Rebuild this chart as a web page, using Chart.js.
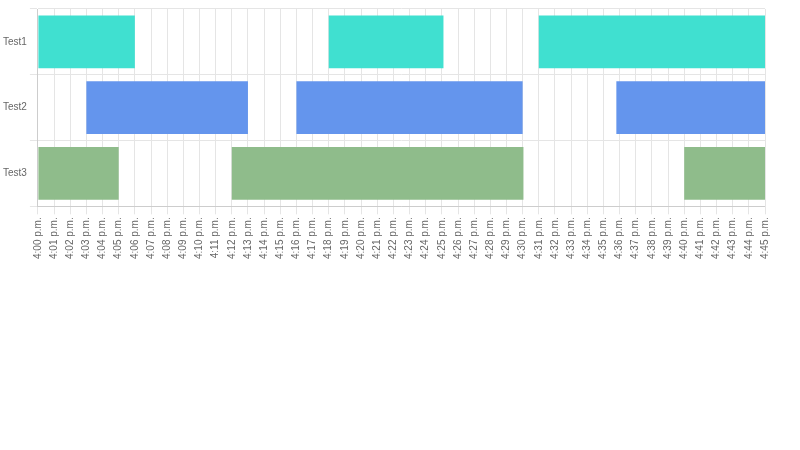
<!DOCTYPE html><html><head><script src="https://cdn.jsdelivr.net/npm/chart.js@4"></script>
<style>body{margin:0}#w{width:800px;height:262px;position:relative}</style></head><body><div id="w"><canvas id="c"></canvas></div>
<script>
const categories=["Test1","Test2","Test3"];
// minutes after 4:00 p.m.
const seg1=[[0,6],[3,13],[0,5]];
const seg2=[[18,25.1],[16,30],[12,30.05]];
const seg3=[[31,45],[35.8,45],[40,45]];
const colors=["#40E0D0","#6495ED","#8FBC8B"];
const mk=(d)=>({data:d,backgroundColor:categories.map((_,i)=>colors[i]),barPercentage:0.8,categoryPercentage:1,grouped:false});
new Chart(document.getElementById('c'),{type:'bar',data:{labels:categories,datasets:[mk(seg1),mk(seg2),mk(seg3)]},
options:{indexAxis:'y',responsive:true,maintainAspectRatio:false,animation:false,
plugins:{legend:{display:false},tooltip:{enabled:false}},
layout:{padding:{right:35,top:5}},
scales:{x:{min:0,max:45,ticks:{stepSize:1,autoSkip:false,minRotation:90,maxRotation:90,font:{size:10},color:'#666',
callback:v=>'4:'+String(v).padStart(2,'0')+' p.m.'},grid:{color:'#e5e5e5'}},
y:{ticks:{font:{size:10},color:'#666'},grid:{color:'#e5e5e5'}}}}});
</script></body></html>
